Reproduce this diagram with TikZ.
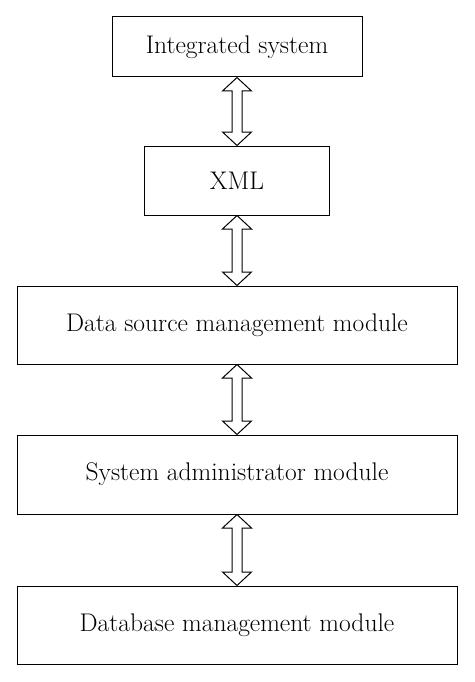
\documentclass[tikz,border=0pt]{standalone}
\usepackage{fontspec}
\setmainfont{Latin Modern Roman}
\usetikzlibrary{calc}
\tikzset{
  module/.style={draw,line width=1pt,minimum height=#1,inner sep=0pt,
    font=\fontsize{25.5}{30}\selectfont},
}
% hollow two-headed arrow between two boxes
\newcommand*{\twoway}[2]{%
  \draw[line width=1pt,line join=miter]
    (#1.south) -- ++(14.5pt,-13.5pt) -- ++(-9.5pt,0pt)
    -- ($(#2.north)+(5pt,13.5pt)$) -- ++(9.5pt,0pt) -- (#2.north)
    -- ++(-14.5pt,13.5pt) -- ++(9.5pt,0pt)
    -- ($(#1.south)+(-5pt,-13.5pt)$) -- ++(-9.5pt,0pt) -- cycle;}

\begin{document}
\begin{tikzpicture}[x=1pt,y=1pt]
    \useasboundingbox (0,0) rectangle (474,-682);
    \node[module=60pt,minimum width=250pt] (integ) at (237,-47){Integrated system};
    \node[module=69pt,minimum width=185pt] (xml) at (237,-180.5){XML};
    \node[module=78pt,minimum width=440pt] (source) at (237,-325){Data source management module};
    \node[module=79pt,minimum width=440pt] (admin) at (237,-474.5){System administrator module};
    \node[module=78pt,minimum width=440pt] (dbase) at (237,-625){Database management module};
    \twoway{integ}{xml}
    \twoway{xml}{source}
    \twoway{source}{admin}
    \twoway{admin}{dbase}
  \end{tikzpicture}
\end{document}
